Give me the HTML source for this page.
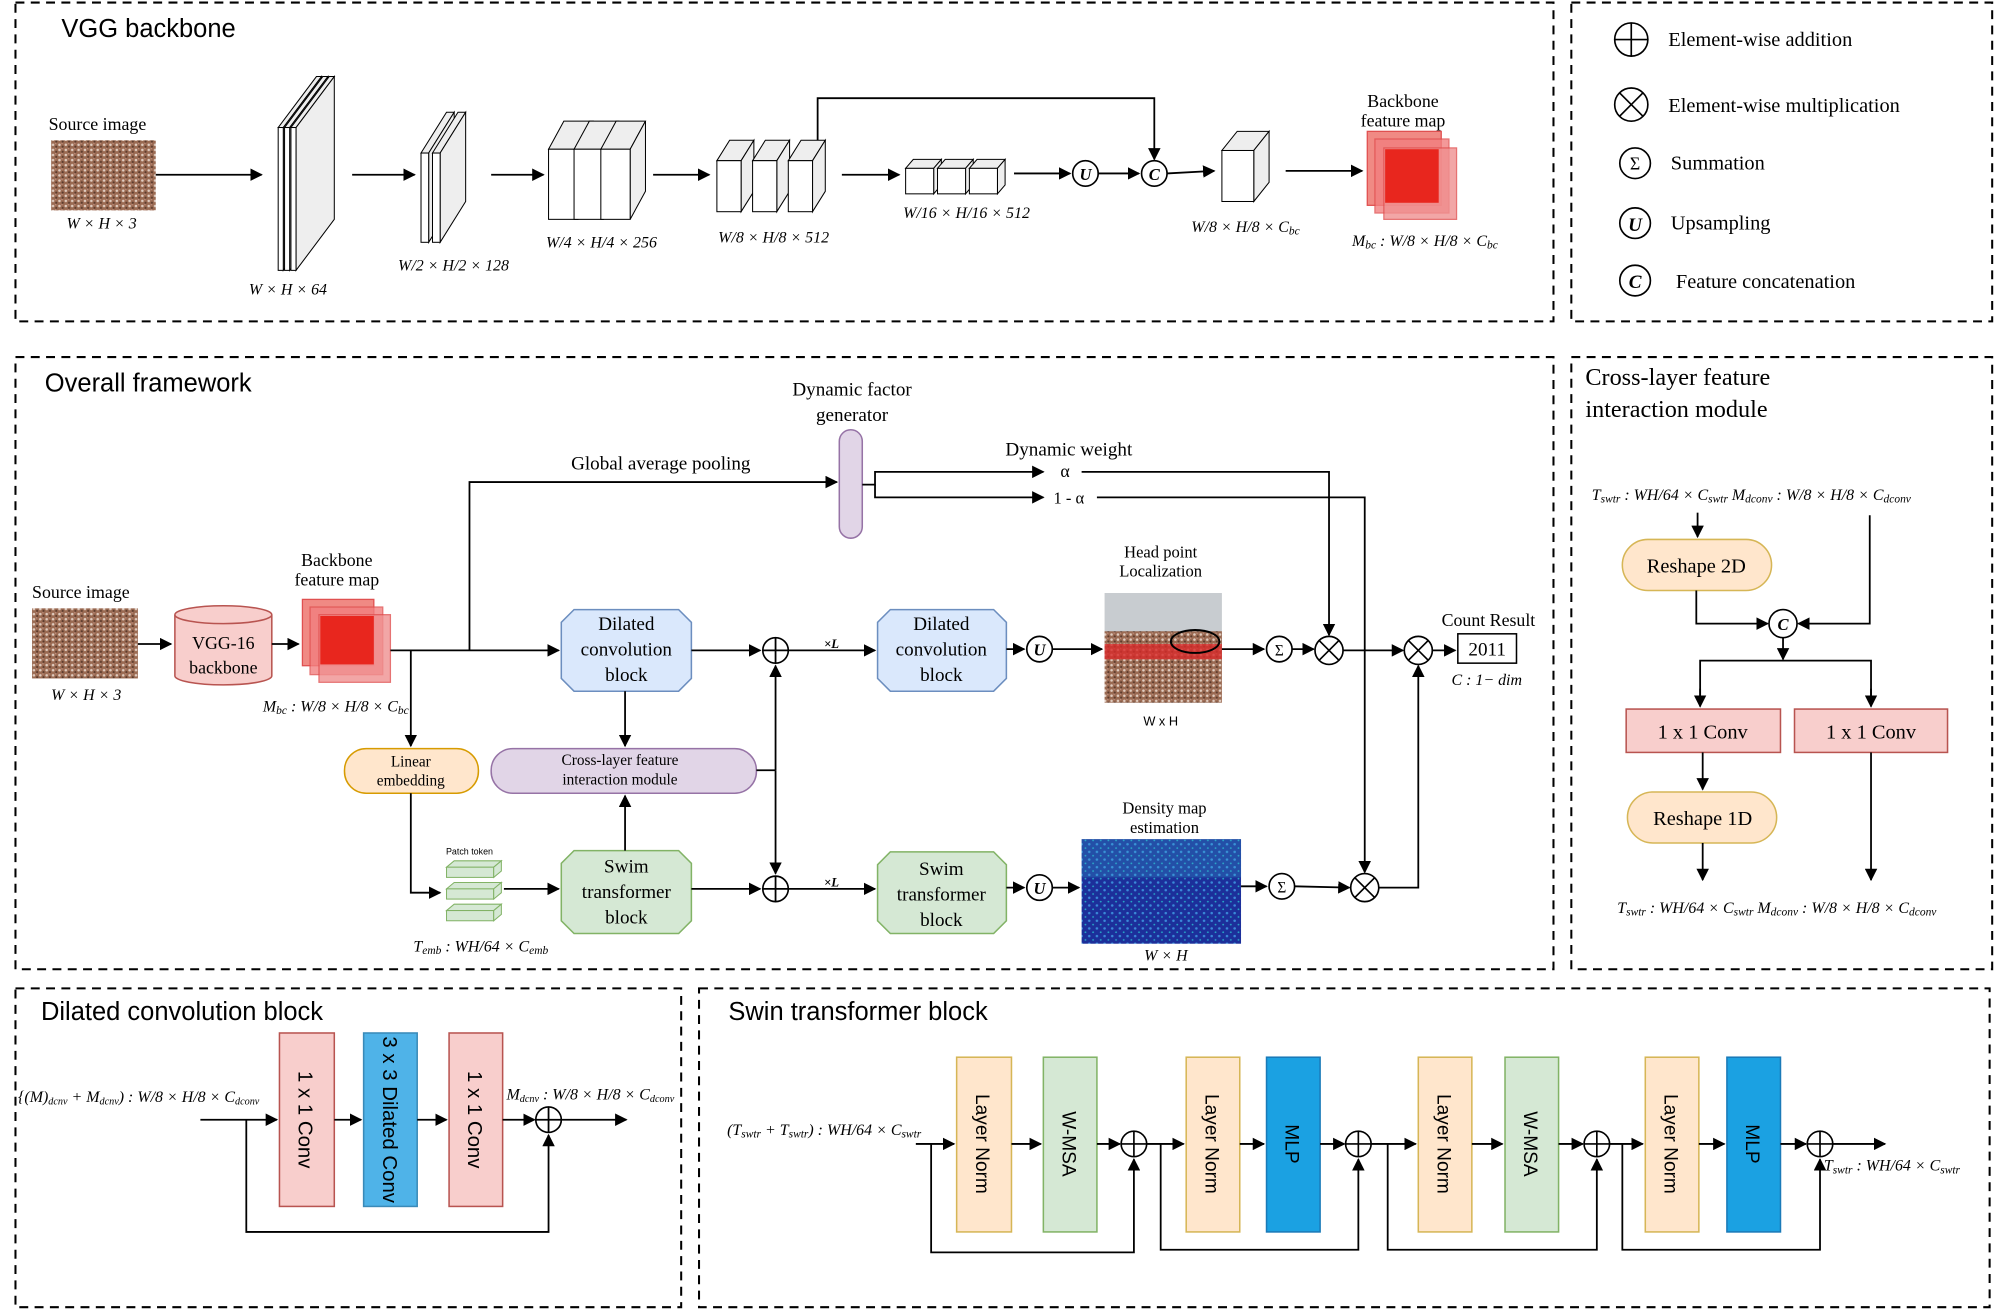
<!DOCTYPE html>
<html><head><meta charset="utf-8"><style>
html,body{margin:0;padding:0;background:#fff}
svg{display:block}
text{font-family:"Liberation Serif",serif;fill:#000}
.t{font-family:"Liberation Sans",sans-serif;font-size:20px}
.s{font-family:"Liberation Sans",sans-serif}
.m{font-style:italic;font-size:12.5px}
.d{fill:none;stroke:#000;stroke-width:1.6;stroke-dasharray:7 5}
.l{fill:none;stroke:#000;stroke-width:1.4}
</style></head><body>
<svg width="2000" height="1311" viewBox="0 0 1568 1028" xmlns="http://www.w3.org/2000/svg">
<defs>
<marker id="a" viewBox="0 0 10 10" refX="9" refY="5" markerWidth="7" markerHeight="7" orient="auto"><path d="M0,0L10,5L0,10z" fill="#000"/></marker>
<pattern id="crowd" width="5" height="4" patternUnits="userSpaceOnUse"><rect width="5" height="4" fill="#9a6a52"/><circle cx="1.5" cy="1.5" r="1" fill="#e0ccc0"/><circle cx="4" cy="3" r="0.8" fill="#5a3a2c"/><rect x="3" y="0" width="1" height="1" fill="#c09080"/></pattern>
<pattern id="dens" width="6" height="6" patternUnits="userSpaceOnUse"><rect width="6" height="6" fill="#1c2f9a"/><circle cx="2" cy="2" r="1" fill="#3a8ad8"/><circle cx="5" cy="5" r="0.7" fill="#26a6c8"/></pattern>
</defs>

<rect class="d" x="12" y="2" width="1206" height="250"/>
<rect class="d" x="1232" y="2" width="330" height="250"/>
<rect class="d" x="12" y="280" width="1206" height="480"/>
<rect class="d" x="1232" y="280" width="330" height="480"/>
<rect class="d" x="12" y="775" width="522" height="250"/>
<rect class="d" x="548" y="775" width="1012" height="250"/>

<!-- VGG backbone -->
<text class="t" x="48" y="29">VGG backbone</text>
<text x="38" y="102" font-size="14">Source image</text>
<rect x="40" y="110" width="82" height="55" fill="url(#crowd)"/>
<text class="m" x="52" y="179">W × H × 3</text>
<line class="l" x1="122" y1="137" x2="205" y2="137" marker-end="url(#a)"/>
<g fill="#fff" stroke="#000" stroke-width="0.8">
<g id="s1"><polygon points="218,100 248,60 252,60 222,100" fill="#eee"/><polygon points="222,100 252,60 252,172 222,212" fill="#eee"/><rect x="218" y="100" width="4" height="112"/></g>
<use href="#s1" x="5"/><use href="#s1" x="10"/>
<g id="s2"><polygon points="330,120 350,88 356,88 336,120" fill="#eee"/><polygon points="336,120 356,88 356,158 336,190" fill="#eee"/><rect x="330" y="120" width="6" height="70"/></g>
<use href="#s2" x="9"/>
<g id="b3"><polygon points="430,117 442,95 465,95 453,117" fill="#eee"/><polygon points="453,117 465,95 465,150 453,172" fill="#eee"/><rect x="430" y="117" width="23" height="55"/></g>
<use href="#b3" x="20"/><use href="#b3" x="41"/>
<g id="b4"><polygon points="562,126 572,110 591,110 581,126" fill="#eee"/><polygon points="581,126 591,110 591,150 581,166" fill="#eee"/><rect x="562" y="126" width="19" height="40"/></g>
<use href="#b4" x="28"/><use href="#b4" x="56"/>
<g id="b5"><polygon points="710,132 716,125 738,125 732,132" fill="#eee"/><polygon points="732,132 738,125 738,145 732,152" fill="#eee"/><rect x="710" y="132" width="22" height="20"/></g>
<use href="#b5" x="25"/><use href="#b5" x="50"/>
<polygon points="958,118 970,103 995,103 983,118" fill="#eee"/><polygon points="983,118 995,103 995,143 983,158" fill="#eee"/><rect x="958" y="118" width="25" height="40"/>
</g>
<text class="m" x="195" y="231">W × H × 64</text>
<text class="m" x="312" y="212">W/2 × H/2 × 128</text>
<text class="m" x="428" y="194">W/4 × H/4 × 256</text>
<text class="m" x="563" y="190">W/8 × H/8 × 512</text>
<text class="m" x="708" y="171">W/16 × H/16 × 512</text>
<text class="m" x="934" y="182">W/8 × H/8 × C<tspan font-size="9" dy="2">bc</tspan></text>
<line class="l" x1="276" y1="137" x2="325" y2="137" marker-end="url(#a)"/>
<line class="l" x1="385" y1="137" x2="426" y2="137" marker-end="url(#a)"/>
<line class="l" x1="512" y1="137" x2="556" y2="137" marker-end="url(#a)"/>
<line class="l" x1="660" y1="137" x2="705" y2="137" marker-end="url(#a)"/>
<line class="l" x1="795" y1="136" x2="839" y2="136" marker-end="url(#a)"/>
<circle cx="851" cy="136" r="10" fill="#fff" stroke="#000" stroke-width="1.3"/><text x="851" y="141" font-size="13" font-style="italic" font-weight="bold" text-anchor="middle">U</text>
<line class="l" x1="861" y1="136" x2="893" y2="136" marker-end="url(#a)"/>
<polyline class="l" points="641,110 641,77 905,77 905,125" marker-end="url(#a)"/>
<circle cx="905" cy="136" r="10" fill="#fff" stroke="#000" stroke-width="1.3"/><text x="905" y="141" font-size="13" font-style="italic" font-weight="bold" text-anchor="middle">C</text>
<line class="l" x1="915" y1="136" x2="952" y2="134" marker-end="url(#a)"/>
<line class="l" x1="1008" y1="134" x2="1068" y2="134" marker-end="url(#a)"/>
<text x="1100" y="84" font-size="14" text-anchor="middle">Backbone</text>
<text x="1100" y="99" font-size="14" text-anchor="middle">feature map</text>
<rect x="1072" y="103" width="58" height="58" fill="#f08a84" stroke="#e05050"/>
<rect x="1078" y="109" width="58" height="58" fill="#f28080" opacity="0.8" stroke="#e05050"/>
<rect x="1085" y="116" width="57" height="56" fill="#f09090" opacity="0.8" stroke="#e05050"/>
<rect x="1086" y="117" width="42" height="42" fill="#e8261e"/>
<text class="m" x="1060" y="193">M<tspan font-size="9" dy="2">bc</tspan><tspan dy="-2"> : W/8 × H/8 × C</tspan><tspan font-size="9" dy="2">bc</tspan></text>

<!-- legend -->
<g stroke="#000" stroke-width="1.3" fill="#fff">
<circle cx="1279" cy="31" r="13"/><line x1="1266" y1="31" x2="1292" y2="31"/><line x1="1279" y1="18" x2="1279" y2="44"/>
<circle cx="1279" cy="82" r="13"/><line x1="1270" y1="73" x2="1288" y2="91"/><line x1="1288" y1="73" x2="1270" y2="91"/>
<circle cx="1282" cy="128" r="12"/><circle cx="1282" cy="175" r="12"/><circle cx="1282" cy="220" r="12"/>
</g>
<text x="1282" y="133" font-size="14" text-anchor="middle">Σ</text>
<text x="1282" y="181" font-size="15" font-style="italic" font-weight="bold" text-anchor="middle">U</text>
<text x="1282" y="226" font-size="15" font-style="italic" font-weight="bold" text-anchor="middle">C</text>
<text x="1308" y="36" font-size="16">Element-wise addition</text>
<text x="1308" y="88" font-size="16">Element-wise multiplication</text>
<text x="1310" y="133" font-size="16">Summation</text>
<text x="1310" y="180" font-size="16">Upsampling</text>
<text x="1314" y="226" font-size="16">Feature concatenation</text>

<!-- Overall framework -->
<text class="t" x="35" y="307">Overall framework</text>
<text x="25" y="469" font-size="14">Source image</text>
<rect x="25" y="477" width="83" height="55" fill="url(#crowd)"/>
<text class="m" x="40" y="549">W × H × 3</text>
<line class="l" x1="108" y1="505" x2="134" y2="505" marker-end="url(#a)"/>
<path d="M137,482 L137,530 A38,7 0 0 0 213,530 L213,482" fill="#f8cecc" stroke="#b85450" stroke-width="1.2"/>
<ellipse cx="175" cy="482" rx="38" ry="7" fill="#f8cecc" stroke="#b85450" stroke-width="1.2"/>
<text x="175" y="509" font-size="14" text-anchor="middle">VGG-16</text>
<text x="175" y="528" font-size="14" text-anchor="middle">backbone</text>
<line class="l" x1="213" y1="505" x2="234" y2="505" marker-end="url(#a)"/>
<text x="264" y="444" font-size="14" text-anchor="middle">Backbone</text>
<text x="264" y="459" font-size="14" text-anchor="middle">feature map</text>
<rect x="237" y="470" width="56" height="52" fill="#f08a84" stroke="#e05050"/>
<rect x="243" y="476" width="57" height="53" fill="#f28080" opacity="0.8" stroke="#e05050"/>
<rect x="250" y="482" width="56" height="53" fill="#f09090" opacity="0.8" stroke="#e05050"/>
<rect x="251" y="483" width="42" height="38" fill="#e8261e"/>
<text class="m" x="206" y="558">M<tspan font-size="9" dy="2">bc</tspan><tspan dy="-2"> : W/8 × H/8 × C</tspan><tspan font-size="9" dy="2">bc</tspan></text>

<line class="l" x1="306" y1="510" x2="438" y2="510" marker-end="url(#a)"/>
<polyline class="l" points="368,510 368,378 656,378" marker-end="url(#a)"/>
<text x="518" y="368" font-size="15" text-anchor="middle">Global average pooling</text>
<text x="668" y="310" font-size="15" text-anchor="middle">Dynamic factor</text>
<text x="668" y="330" font-size="15" text-anchor="middle">generator</text>
<rect x="658" y="337" width="18" height="85" rx="9" fill="#e1d5e7" stroke="#9673a6" stroke-width="1.2"/>
<polyline class="l" points="676,380 686,380 686,370 818,370" marker-end="url(#a)"/>
<polyline class="l" points="686,380 686,390 818,390" marker-end="url(#a)"/>
<text x="838" y="357" font-size="15" text-anchor="middle">Dynamic weight</text>
<text x="835" y="374" font-size="14" text-anchor="middle">α</text>
<text x="838" y="395" font-size="13" text-anchor="middle">1 - α</text>
<polyline class="l" points="848,370 1042,370 1042,498" marker-end="url(#a)"/>
<polyline class="l" points="860,390 1070,390 1070,684" marker-end="url(#a)"/>

<polygon points="450,478 532,478 542,488 542,532 532,542 450,542 440,532 440,488" fill="#dae8fc" stroke="#6c8ebf" stroke-width="1.2"/>
<text x="491" y="494" font-size="15" text-anchor="middle">Dilated</text>
<text x="491" y="514" font-size="15" text-anchor="middle">convolution</text>
<text x="491" y="534" font-size="15" text-anchor="middle">block</text>
<line class="l" x1="542" y1="510" x2="596" y2="510" marker-end="url(#a)"/>
<circle cx="608" cy="510" r="10" fill="#fff" stroke="#000" stroke-width="1.3"/><line class="l" x1="598" y1="510" x2="618" y2="510"/><line class="l" x1="608" y1="500" x2="608" y2="520"/>
<line class="l" x1="618" y1="510" x2="686" y2="510" marker-end="url(#a)"/>
<text x="646" y="508" font-size="10" font-style="italic" font-weight="bold">×L</text>
<polygon points="698,478 779,478 789,488 789,532 779,542 698,542 688,532 688,488" fill="#dae8fc" stroke="#6c8ebf" stroke-width="1.2"/>
<text x="738" y="494" font-size="15" text-anchor="middle">Dilated</text>
<text x="738" y="514" font-size="15" text-anchor="middle">convolution</text>
<text x="738" y="534" font-size="15" text-anchor="middle">block</text>
<line class="l" x1="789" y1="509" x2="803" y2="509" marker-end="url(#a)"/>
<circle cx="815" cy="509" r="10" fill="#fff" stroke="#000" stroke-width="1.3"/><text x="815" y="514" font-size="13" font-style="italic" font-weight="bold" text-anchor="middle">U</text>
<line class="l" x1="825" y1="509" x2="864" y2="509" marker-end="url(#a)"/>
<text x="910" y="437" font-size="13" text-anchor="middle">Head point</text>
<text x="910" y="452" font-size="13" text-anchor="middle">Localization</text>
<rect x="866" y="465" width="92" height="40" fill="#c8ccd0"/>
<rect x="866" y="495" width="92" height="56" fill="url(#crowd)"/>
<rect x="866" y="505" width="92" height="12" fill="#d82a2a" opacity="0.8"/>
<ellipse cx="937" cy="503" rx="19" ry="9" fill="none" stroke="#000" stroke-width="1.5"/>
<text x="910" y="569" font-size="10" text-anchor="middle" class="s">W x H</text>
<line class="l" x1="958" y1="509" x2="991" y2="509" marker-end="url(#a)"/>
<circle cx="1003" cy="509" r="10" fill="#fff" stroke="#000" stroke-width="1.3"/><text x="1003" y="514" font-size="12" text-anchor="middle">Σ</text>
<line class="l" x1="1013" y1="509" x2="1030" y2="509" marker-end="url(#a)"/>
<g stroke="#000" stroke-width="1.3" fill="#fff">
<circle cx="1042" cy="510" r="11"/><line x1="1034" y1="502" x2="1050" y2="518"/><line x1="1050" y1="502" x2="1034" y2="518"/>
<circle cx="1112" cy="510" r="11"/><line x1="1104" y1="502" x2="1120" y2="518"/><line x1="1120" y1="502" x2="1104" y2="518"/>
<circle cx="1070" cy="696" r="11"/><line x1="1062" y1="688" x2="1078" y2="704"/><line x1="1078" y1="688" x2="1062" y2="704"/>
</g>
<line class="l" x1="1053" y1="510" x2="1100" y2="510" marker-end="url(#a)"/>
<line class="l" x1="1123" y1="510" x2="1141" y2="510" marker-end="url(#a)"/>
<text x="1167" y="491" font-size="14" text-anchor="middle">Count Result</text>
<rect x="1143" y="497" width="46" height="23" fill="#fff" stroke="#000" stroke-width="1.2"/>
<text x="1166" y="514" font-size="15" text-anchor="middle">2011</text>
<text class="m" x="1138" y="537">C : 1− dim</text>
<polyline class="l" points="1081,696 1112,696 1112,522" marker-end="url(#a)"/>

<polyline class="l" points="322,510 322,585" marker-end="url(#a)"/>
<rect x="270" y="587" width="105" height="35" rx="17" fill="#ffe6cc" stroke="#d79b00" stroke-width="1.2"/>
<text x="322" y="601" font-size="12" text-anchor="middle">Linear</text>
<text x="322" y="616" font-size="12" text-anchor="middle">embedding</text>
<polyline class="l" points="322,622 322,700 345,700" marker-end="url(#a)"/>
<text x="368" y="670" font-size="7" class="s" text-anchor="middle">Patch token</text>
<g fill="#d5e8d4" stroke="#82b366" stroke-width="0.8">
<polygon points="350,680 356,675 393,675 387,680"/><rect x="350" y="680" width="37" height="8"/><polygon points="387,680 393,675 393,683 387,688"/>
<polygon points="350,697 356,692 393,692 387,697"/><rect x="350" y="697" width="37" height="8"/><polygon points="387,697 393,692 393,700 387,705"/>
<polygon points="350,714 356,709 393,709 387,714"/><rect x="350" y="714" width="37" height="8"/><polygon points="387,714 393,709 393,717 387,722"/>
</g>
<line class="l" x1="395" y1="697" x2="438" y2="697" marker-end="url(#a)"/>
<text class="m" x="324" y="746">T<tspan font-size="9" dy="2">emb</tspan><tspan dy="-2"> : WH/64 × C</tspan><tspan font-size="9" dy="2">emb</tspan></text>
<polygon points="450,667 532,667 542,677 542,722 532,732 450,732 440,722 440,677" fill="#d5e8d4" stroke="#82b366" stroke-width="1.2"/>
<text x="491" y="684" font-size="15" text-anchor="middle">Swim</text>
<text x="491" y="704" font-size="15" text-anchor="middle">transformer</text>
<text x="491" y="724" font-size="15" text-anchor="middle">block</text>
<line class="l" x1="542" y1="697" x2="596" y2="697" marker-end="url(#a)"/>
<circle cx="608" cy="697" r="10" fill="#fff" stroke="#000" stroke-width="1.3"/><line class="l" x1="598" y1="697" x2="618" y2="697"/><line class="l" x1="608" y1="687" x2="608" y2="707"/>
<line class="l" x1="618" y1="697" x2="686" y2="697" marker-end="url(#a)"/>
<text x="646" y="695" font-size="10" font-style="italic" font-weight="bold">×L</text>
<polygon points="698,668 779,668 789,678 789,722 779,732 698,732 688,722 688,678" fill="#d5e8d4" stroke="#82b366" stroke-width="1.2"/>
<text x="738" y="686" font-size="15" text-anchor="middle">Swim</text>
<text x="738" y="706" font-size="15" text-anchor="middle">transformer</text>
<text x="738" y="726" font-size="15" text-anchor="middle">block</text>
<line class="l" x1="789" y1="696" x2="803" y2="696" marker-end="url(#a)"/>
<circle cx="815" cy="696" r="10" fill="#fff" stroke="#000" stroke-width="1.3"/><text x="815" y="701" font-size="13" font-style="italic" font-weight="bold" text-anchor="middle">U</text>
<line class="l" x1="825" y1="696" x2="846" y2="696" marker-end="url(#a)"/>
<text x="913" y="638" font-size="13" text-anchor="middle">Density map</text>
<text x="913" y="653" font-size="13" text-anchor="middle">estimation</text>
<rect x="848" y="658" width="125" height="82" fill="url(#dens)"/>
<rect x="848" y="658" width="125" height="30" fill="#38b0d0" opacity="0.25"/>
<text class="m" x="897" y="753">W × H</text>
<line class="l" x1="973" y1="695" x2="993" y2="695" marker-end="url(#a)"/>
<circle cx="1005" cy="695" r="10" fill="#fff" stroke="#000" stroke-width="1.3"/><text x="1005" y="700" font-size="12" text-anchor="middle">Σ</text>
<line class="l" x1="1015" y1="695" x2="1058" y2="696" marker-end="url(#a)"/>

<rect x="385" y="587" width="208" height="35" rx="17" fill="#e1d5e7" stroke="#9673a6" stroke-width="1.2"/>
<text x="486" y="600" font-size="12" text-anchor="middle">Cross-layer feature</text>
<text x="486" y="615" font-size="12" text-anchor="middle">interaction module</text>
<line class="l" x1="490" y1="542" x2="490" y2="585" marker-end="url(#a)"/>
<line class="l" x1="490" y1="667" x2="490" y2="624" marker-end="url(#a)"/>
<line class="l" x1="593" y1="604" x2="608" y2="604"/>
<line class="l" x1="608" y1="604" x2="608" y2="522" marker-end="url(#a)"/>
<line class="l" x1="608" y1="604" x2="608" y2="685" marker-end="url(#a)"/>

<!-- Cross-layer module -->
<text x="1243" y="302" font-size="19">Cross-layer feature</text>
<text x="1243" y="327" font-size="19">interaction module</text>
<text class="m" x="1248" y="392" font-size="12">T<tspan font-size="9" dy="2">swtr</tspan><tspan dy="-2"> : WH/64 × C</tspan><tspan font-size="9" dy="2">swtr</tspan><tspan dy="-2"> M</tspan><tspan font-size="9" dy="2">dconv</tspan><tspan dy="-2"> : W/8 × H/8 × C</tspan><tspan font-size="9" dy="2">dconv</tspan></text>
<line class="l" x1="1331" y1="402" x2="1331" y2="421" marker-end="url(#a)"/>
<rect x="1272" y="423" width="117" height="40" rx="20" fill="#ffe6cc" stroke="#d6b656" stroke-width="1.2"/>
<text x="1330" y="449" font-size="16" text-anchor="middle">Reshape 2D</text>
<polyline class="l" points="1466,404 1466,489 1410,489" marker-end="url(#a)"/>
<polyline class="l" points="1330,463 1330,489 1386,489" marker-end="url(#a)"/>
<circle cx="1398" cy="489" r="11" fill="#fff" stroke="#000" stroke-width="1.3"/><text x="1398" y="494" font-size="13" font-style="italic" font-weight="bold" text-anchor="middle">C</text>
<line class="l" x1="1398" y1="500" x2="1398" y2="517" marker-end="url(#a)"/>
<polyline class="l" points="1333,553 1333,518 1467,518 1467,553"/>
<line class="l" x1="1333" y1="540" x2="1333" y2="554" marker-end="url(#a)"/>
<line class="l" x1="1467" y1="540" x2="1467" y2="554" marker-end="url(#a)"/>
<rect x="1275" y="556" width="121" height="34" fill="#f8cecc" stroke="#b85450" stroke-width="1.2"/>
<text x="1335" y="579" font-size="16" text-anchor="middle">1 x 1 Conv</text>
<rect x="1407" y="556" width="120" height="34" fill="#f8cecc" stroke="#b85450" stroke-width="1.2"/>
<text x="1467" y="579" font-size="16" text-anchor="middle">1 x 1 Conv</text>
<line class="l" x1="1335" y1="590" x2="1335" y2="619" marker-end="url(#a)"/>
<rect x="1276" y="621" width="117" height="40" rx="20" fill="#ffe6cc" stroke="#d6b656" stroke-width="1.2"/>
<text x="1335" y="647" font-size="16" text-anchor="middle">Reshape 1D</text>
<line class="l" x1="1335" y1="661" x2="1335" y2="690" marker-end="url(#a)"/>
<line class="l" x1="1467" y1="590" x2="1467" y2="690" marker-end="url(#a)"/>
<text class="m" x="1268" y="716" font-size="12">T<tspan font-size="9" dy="2">swtr</tspan><tspan dy="-2"> : WH/64 × C</tspan><tspan font-size="9" dy="2">swtr</tspan><tspan dy="-2"> M</tspan><tspan font-size="9" dy="2">dconv</tspan><tspan dy="-2"> : W/8 × H/8 × C</tspan><tspan font-size="9" dy="2">dconv</tspan></text>

<!-- Dilated conv block -->
<text class="t" x="32" y="800">Dilated convolution block</text>
<text class="m" x="14" y="864" font-size="11.5">{(M)<tspan font-size="8" dy="2">dcnv</tspan><tspan dy="-2"> + M</tspan><tspan font-size="8" dy="2">dcnv</tspan><tspan dy="-2">) : W/8 × H/8 × C</tspan><tspan font-size="8" dy="2">dconv</tspan></text>
<line class="l" x1="157" y1="878" x2="217" y2="878" marker-end="url(#a)"/>
<rect x="219" y="810" width="43" height="136" fill="#f8cecc" stroke="#b85450" stroke-width="1.2"/>
<text class="s" font-size="16" transform="translate(234,878) rotate(90)" text-anchor="middle">1 x 1 Conv</text>
<line class="l" x1="262" y1="878" x2="283" y2="878" marker-end="url(#a)"/>
<rect x="285" y="810" width="42" height="136" fill="#4fb3e8" stroke="#3a8ab8" stroke-width="1.2"/>
<text class="s" font-size="16" transform="translate(300,878) rotate(90)" text-anchor="middle">3 x 3 Dilated Conv</text>
<line class="l" x1="327" y1="878" x2="350" y2="878" marker-end="url(#a)"/>
<rect x="352" y="810" width="42" height="136" fill="#f8cecc" stroke="#b85450" stroke-width="1.2"/>
<text class="s" font-size="16" transform="translate(367,878) rotate(90)" text-anchor="middle">1 x 1 Conv</text>
<line class="l" x1="394" y1="878" x2="419" y2="878" marker-end="url(#a)"/>
<circle cx="430" cy="878" r="10" fill="#fff" stroke="#000" stroke-width="1.3"/><line class="l" x1="420" y1="878" x2="440" y2="878"/><line class="l" x1="430" y1="868" x2="430" y2="888"/>
<line class="l" x1="440" y1="878" x2="491" y2="878" marker-end="url(#a)"/>
<polyline class="l" points="193,878 193,966 430,966 430,890" marker-end="url(#a)"/>
<text class="m" x="397" y="862" font-size="11.5">M<tspan font-size="8" dy="2">dcnv</tspan><tspan dy="-2"> : W/8 × H/8 × C</tspan><tspan font-size="8" dy="2">dconv</tspan></text>

<!-- Swin block -->
<text class="t" x="571" y="800">Swin transformer block</text>
<text class="m" x="570" y="890" font-size="13">(T<tspan font-size="9" dy="2">swtr</tspan><tspan dy="-2"> + T</tspan><tspan font-size="9" dy="2">swtr</tspan><tspan dy="-2">) : WH/64 × C</tspan><tspan font-size="9" dy="2">swtr</tspan></text>
<line class="l" x1="718" y1="897" x2="748" y2="897" marker-end="url(#a)"/>
<g stroke-width="1.2">
<rect x="750" y="829" width="43" height="137" fill="#ffe6cc" stroke="#d6b656"/>
<rect x="818" y="829" width="42" height="137" fill="#d5e8d4" stroke="#82b366"/>
<rect x="930" y="829" width="42" height="137" fill="#ffe6cc" stroke="#d6b656"/>
<rect x="993" y="829" width="42" height="137" fill="#1ba1e2" stroke="#1a7ab8"/>
<rect x="1112" y="829" width="42" height="137" fill="#ffe6cc" stroke="#d6b656"/>
<rect x="1180" y="829" width="42" height="137" fill="#d5e8d4" stroke="#82b366"/>
<rect x="1290" y="829" width="42" height="137" fill="#ffe6cc" stroke="#d6b656"/>
<rect x="1354" y="829" width="42" height="137" fill="#1ba1e2" stroke="#1a7ab8"/>
</g>
<g class="s" font-size="15">
<text transform="translate(765,897) rotate(90)" text-anchor="middle" class="s">Layer Norm</text>
<text transform="translate(833,897) rotate(90)" text-anchor="middle" class="s">W-MSA</text>
<text transform="translate(945,897) rotate(90)" text-anchor="middle" class="s">Layer Norm</text>
<text transform="translate(1008,897) rotate(90)" text-anchor="middle" class="s">MLP</text>
<text transform="translate(1127,897) rotate(90)" text-anchor="middle" class="s">Layer Norm</text>
<text transform="translate(1195,897) rotate(90)" text-anchor="middle" class="s">W-MSA</text>
<text transform="translate(1305,897) rotate(90)" text-anchor="middle" class="s">Layer Norm</text>
<text transform="translate(1369,897) rotate(90)" text-anchor="middle" class="s">MLP</text>
</g>
<line class="l" x1="793" y1="897" x2="816" y2="897" marker-end="url(#a)"/>
<line class="l" x1="860" y1="897" x2="878" y2="897" marker-end="url(#a)"/>
<line class="l" x1="899" y1="897" x2="928" y2="897" marker-end="url(#a)"/>
<line class="l" x1="972" y1="897" x2="991" y2="897" marker-end="url(#a)"/>
<line class="l" x1="1035" y1="897" x2="1054" y2="897" marker-end="url(#a)"/>
<line class="l" x1="1075" y1="897" x2="1110" y2="897" marker-end="url(#a)"/>
<line class="l" x1="1154" y1="897" x2="1178" y2="897" marker-end="url(#a)"/>
<line class="l" x1="1222" y1="897" x2="1241" y2="897" marker-end="url(#a)"/>
<line class="l" x1="1262" y1="897" x2="1288" y2="897" marker-end="url(#a)"/>
<line class="l" x1="1332" y1="897" x2="1352" y2="897" marker-end="url(#a)"/>
<line class="l" x1="1396" y1="897" x2="1416" y2="897" marker-end="url(#a)"/>
<line class="l" x1="1437" y1="897" x2="1478" y2="897" marker-end="url(#a)"/>
<g fill="#fff" stroke="#000" stroke-width="1.3">
<circle cx="889" cy="897" r="10"/><circle cx="1065" cy="897" r="10"/><circle cx="1252" cy="897" r="10"/><circle cx="1427" cy="897" r="10"/>
<path d="M879,897h20M889,887v20M1055,897h20M1065,887v20M1242,897h20M1252,887v20M1417,897h20M1427,887v20"/>
</g>
<polyline class="l" points="730,897 730,982 889,982 889,909" marker-end="url(#a)"/>
<polyline class="l" points="910,897 910,980 1065,980 1065,909" marker-end="url(#a)"/>
<polyline class="l" points="1088,897 1088,980 1252,980 1252,909" marker-end="url(#a)"/>
<polyline class="l" points="1272,897 1272,980 1427,980 1427,909" marker-end="url(#a)"/>
<text class="m" x="1430" y="918" font-size="13">T<tspan font-size="9" dy="2">swtr</tspan><tspan dy="-2"> : WH/64 × C</tspan><tspan font-size="9" dy="2">swtr</tspan></text>
</svg>
</body></html>
